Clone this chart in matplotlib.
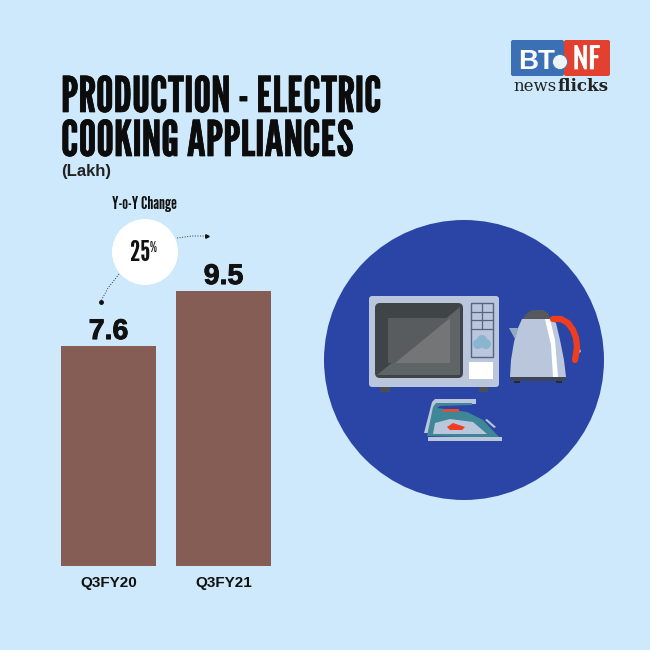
import matplotlib
matplotlib.use("Agg")
import matplotlib.pyplot as plt
import matplotlib.patheffects as pe
from matplotlib.patches import Circle, Rectangle, FancyBboxPatch, Polygon

quarters = ["Q3FY20", "Q3FY21"]
production = [7.6, 9.5]
change = "25"

BG = "#cde9fb"
BAR = "#855d55"
BLUE = "#2a45a6"
STEEL = "#b9c6dc"
TEAL = "#3f8796"
RED = "#ee3d1f"
NARROW = ["League Gothic", "Antonio", "Oswald", "DejaVu Sans"]
LOGO = ["Oswald", "Liberation Sans", "DejaVu Sans"]
WIDE = ["Liberation Sans", "DejaVu Sans"]


def thick(w, color="#0c0c0c"):
    return [pe.withStroke(linewidth=w, foreground=color)]


def box(ax, x0, y0, x1, y1, color, r=0, z=3):
    if r:
        ax.add_patch(FancyBboxPatch((x0 + r, y0 + r), x1 - x0 - 2 * r, y1 - y0 - 2 * r,
                                    boxstyle="round,pad=%g,rounding_size=%g" % (r, r),
                                    fc=color, ec="none", zorder=z))
    else:
        ax.add_patch(Rectangle((x0, y0), x1 - x0, y1 - y0, fc=color, ec="none", zorder=z))


def poly(ax, pts, color, z=3):
    ax.add_patch(Polygon(pts, fc=color, ec="none", zorder=z))


fig = plt.figure(figsize=(6.5, 6.5), dpi=100, facecolor=BG)

# overlay in pixel coordinates, y pointing down
bg = fig.add_axes([0, 0, 1, 1])
bg.set_xlim(0, 650)
bg.set_ylim(650, 0)
bg.axis("off")

# bars
ax = fig.add_axes([61 / 650, (650 - 566) / 650, 210 / 650, 275 / 650])
ax.patch.set_alpha(0)
ax.bar([0, 1], production, width=0.826, color=BAR)
ax.set_xlim(-0.413, 1.413)
ax.set_ylim(0, 9.5)
ax.set_xticks([0, 1])
ax.set_xticklabels(quarters, fontfamily=WIDE, fontweight="bold", fontsize=11, color="#111111")
ax.tick_params(axis="x", length=0, pad=7)
ax.set_yticks([])
for s in ax.spines.values():
    s.set_visible(False)
for i, v in enumerate(production):
    ax.text(i, v + 0.24, "%.1f" % v, ha="center", va="baseline", fontfamily=WIDE,
            fontweight="bold", fontsize=20.5, color="#111111", clip_on=False,
            path_effects=thick(0.7, "#111111"))

# title
bg.text(61, 112, "PRODUCTION - ELECTRIC", fontfamily=NARROW, fontsize=35.5, color="#0c0c0c",
        va="baseline", path_effects=thick(0.5))
bg.text(61, 156, "COOKING APPLIANCES", fontfamily=NARROW, fontsize=35.5, color="#0c0c0c",
        va="baseline", path_effects=thick(0.5))
bg.text(61, 176, "(Lakh)", fontfamily=WIDE, fontweight="bold", fontsize=12, color="#222222",
        va="baseline")

# y-o-y badge
bg.text(144, 204, "Y-o-Y Change", fontfamily=NARROW, fontsize=13, color="#111111",
        ha="center", va="center")
bg.add_patch(Circle((145, 252), 33, fc="white", ec="none"))
bg.text(150, 261, change, fontfamily=NARROW, fontsize=20.5, color="#111111", ha="right",
        va="baseline")
bg.text(150, 248, "%", fontfamily=NARROW, fontsize=10, color="#111111", va="center")
bg.plot([177, 192, 206], [238, 236, 236], color="#333333", lw=0.7, ls=":")
bg.plot([207], [236], marker=">", ms=2.5, color="#111111")
bg.plot([119, 108, 101], [274, 288, 301], color="#333333", lw=0.7, ls=":")
bg.plot([101], [302], marker="o", ms=2.5, color="#111111")

# logo
box(bg, 511, 40, 564, 76, "#3b71b4", r=2)
box(bg, 564, 40, 610, 76, "#e2412f", r=2)
bg.text(518, 69, "BT", fontfamily=WIDE, fontweight="bold", fontsize=20, color="white",
        va="baseline", zorder=5)
bg.text(573, 69, "NF", fontfamily=LOGO, fontsize=21, color="white", va="baseline", zorder=5,
        path_effects=thick(0.5, "white"))
bg.add_patch(Circle((560, 62), 7.5, fc="#eef3f8", ec="#3b71b4", lw=0.6, zorder=6))
bg.text(513, 91, "news", fontfamily=["DejaVu Serif"], fontsize=12, color="#222222", va="baseline")
bg.text(558, 91, "flicks", fontfamily=["DejaVu Serif"], fontweight="bold", fontsize=12,
        color="#222222", va="baseline")

# illustration
bg.add_patch(Circle((464, 360), 140, fc=BLUE, ec="none", zorder=1))

# microwave
box(bg, 369, 296, 499, 387, STEEL, r=3)
box(bg, 380, 387, 390, 392, "#4a4f55")
box(bg, 479, 387, 488, 392, "#4a4f55")
box(bg, 375, 303, 463, 378, "#3f4446", r=5, z=4)
poly(bg, [(377, 375), (460, 307), (460, 375)], "#5f6466", 5)
box(bg, 388, 318, 450, 363, "#585c5e", z=5)
poly(bg, [(395, 363), (450, 318), (450, 363)], "#737577", 6)
# keypad
bg.add_patch(Rectangle((471, 303), 22, 54, fc="none", ec="#59657e", lw=1, zorder=5))
for yy in [312, 320, 329]:
    bg.plot([471, 493], [yy, yy], color="#59657e", lw=0.9, zorder=5)
bg.plot([482, 482], [303, 329], color="#59657e", lw=0.9, zorder=5)
for cx, cy in [(482, 340), (478, 344), (486, 344)]:
    bg.add_patch(Circle((cx, cy), 5, fc="#8ab5d0", ec="none", zorder=6))
box(bg, 469, 362, 493, 379, "white", z=5)

# kettle
poly(bg, [(522, 320), (527, 313), (532, 310), (543, 310), (548, 313), (551, 320)], "#55585c", 3)
poly(bg, [(522, 319), (551, 319), (556, 323), (560, 340), (564, 360), (566, 377), (510, 377),
          (511, 360), (514, 342), (518, 328)], STEEL, 4)
poly(bg, [(509, 328), (518, 328), (515, 339)], "#93aac0", 3)
poly(bg, [(545, 319), (550, 319), (555, 340), (558, 377), (553, 377), (551, 345)], "white", 5)
box(bg, 510, 377, 566, 381, "#3c4658", z=5)
box(bg, 514, 381, 520, 383, "#222a3a", z=5)
box(bg, 556, 381, 562, 383, "#222a3a", z=5)
bg.plot([553, 561, 568, 573, 576, 577, 576, 575], [319, 319, 323, 330, 338, 347, 354, 360],
        color=RED, lw=4.5, solid_capstyle="round", zorder=5)
bg.add_patch(Circle((579, 351), 1.8, fc=STEEL, ec="none", zorder=4))

# iron
poly(bg, [(424, 433), (432, 402), (435, 399), (476, 399), (476, 404), (437, 404), (428, 433)],
     STEEL, 3)
poly(bg, [(427, 436), (433, 407), (436, 403), (472, 403), (472, 405), (440, 406), (437, 408),
          (467, 412), (483, 420), (500, 438)], TEAL, 4)
poly(bg, [(433, 434), (435, 423), (450, 419), (473, 422), (487, 434)], STEEL, 5)
poly(bg, [(447, 427), (453, 423), (465, 427), (462, 430), (450, 430)], RED, 6)
box(bg, 443, 409, 459, 412, "#d9503a", z=5)
poly(bg, [(485, 420), (487, 419), (496, 427), (494, 428)], STEEL, 5)
box(bg, 428, 437, 502, 441, STEEL, z=4)

fig.savefig("out.png", dpi=100, facecolor=BG)
